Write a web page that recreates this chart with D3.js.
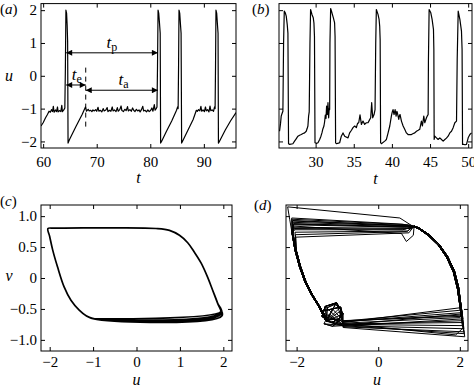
<!DOCTYPE html>
<html>
<head>
<meta charset="utf-8">
<script src="https://cdn.jsdelivr.net/npm/d3@7"></script>
<style>
  body { margin: 0; background: #fff; }
  svg { display: block; }
</style>
</head>
<body>
<div id="fig"></div>
<script>
// ---- data ----

// (a) u against t
const seriesA = [
  [59.6,-1.53],[60.0,-1.43],[60.45,-1.28],[60.8,-1.18],[61.1,-1.08],[61.35,-1.11],[61.55,-1.03],[61.75,-1.09],
  [61.9,-0.93],[62.05,-1.11],[62.3,-1.04],[62.5,-1.09],[62.68,-0.95],[62.8,-1.1],[63.05,-1.06],[63.3,-1.09],
  [63.48,-0.9],[63.6,-1.09],[63.85,-1.04],[64.05,-0.98],
  [64.15,0.2],[64.25,2.0],[64.38,1.9],[64.48,1.55],[64.57,1.05],[64.65,-2.05],
  [64.9,-1.95],[65.5,-1.75],[66.1,-1.55],[66.7,-1.36],[67.3,-1.17],[67.9,-0.95],
  [68.1,-1.08],[68.4,-1.02],[68.6,-1.07],[68.85,-1.05],[69.1,-1.09],[69.3,-1.04],[69.55,-1.07],[69.8,-1.03],
  [70.0,-1.08],[70.25,-0.96],[70.4,-1.08],[70.7,-1.05],[70.95,-1.1],[71.2,-1.0],[71.4,-1.07],[71.7,-1.04],
  [71.95,-0.97],[72.1,-1.09],[72.4,-1.05],[72.65,-1.08],[72.9,-0.95],[73.05,-1.07],[73.3,-1.04],[73.6,-1.09],
  [73.85,-0.97],[74.0,-1.08],[74.3,-1.03],[74.55,-0.92],[74.7,-1.06],[75.0,-1.09],[75.25,-1.02],[75.5,-1.06],
  [75.75,-0.94],[75.9,-1.07],[76.2,-1.03],[76.45,-1.08],[76.7,-0.98],[76.9,-1.05],[77.15,-1.09],[77.4,-1.02],
  [77.65,-1.07],[77.9,-1.04],[78.1,-1.1],[78.35,-1.03],[78.6,-0.93],[78.75,-1.07],[79.0,-1.05],[79.3,-1.1],
  [79.55,-1.04],[79.8,-1.09],[80.05,-1.06],[80.3,-0.98],[80.5,-1.08],[80.75,-0.88],[80.9,-1.05],[81.1,-1.0],
  [81.25,-0.95],
  [81.35,0.3],[81.45,2.0],[81.58,1.9],[81.72,1.6],[81.85,1.3],[81.93,-2.05],
  [82.1,-2.0],[83.0,-1.7],[84.0,-1.38],[84.9,-1.05],[85.1,-0.95],[85.2,-1.0],
  [85.28,0.3],[85.36,2.0],[85.5,1.9],[85.62,1.6],[85.75,1.3],[85.85,-2.05],
  [86.0,-2.0],[87.0,-1.67],[88.0,-1.33],[88.6,-1.05],[88.8,-1.08],[89.0,-1.03],[89.25,-1.07],[89.45,-0.93],
  [89.6,-1.08],[89.85,-1.04],[90.1,-1.09],[90.3,-0.95],[90.45,-1.07],[90.7,-1.03],[90.95,-1.1],[91.15,-0.92],
  [91.3,-1.06],[91.55,-1.04],[91.8,-1.08],[92.0,-0.95],[92.1,-1.0],
  [92.18,0.3],[92.26,2.0],[92.4,1.9],[92.52,1.6],[92.65,1.3],[92.72,-2.05],
  [92.9,-2.0],[94.0,-1.65],[95.0,-1.37],[96.0,-1.12]
];

// (b) u against t, noisier run
const seriesB = [
  [25.27,-1.69],[25.4,-1.45],[25.49,-1.23],[25.6,-1.15],[25.71,-1.08],[25.8,1.0],[25.89,1.97],[26.02,1.92],
  [26.15,1.82],[26.28,1.56],[26.37,1.3],[26.45,-2.07],[26.6,-2.09],[27.02,-2.07],[27.24,-1.99],[27.45,-1.92],
  [27.68,-1.84],[27.9,-1.81],[28.12,-1.79],[28.35,-1.76],[28.56,-1.74],[28.77,-1.69],[28.9,-1.6],[28.99,-1.53],
  [29.08,-1.23],[29.16,-1.1],[29.26,1.0],[29.34,2.02],[29.52,1.87],[29.69,1.77],[29.78,1.61],[29.85,1.2],
  [29.92,-2.04],[30.1,-2.06],[30.31,-2.04],[30.53,-1.94],[30.7,-1.84],[30.83,-1.74],[30.95,-1.62],[31.09,-1.53],
  [31.18,-1.4],[31.27,-1.2],[31.36,-1.3],[31.44,-0.92],[31.53,-1.18],[31.62,-0.82],[31.71,-1.28],[31.78,-1.0],
  [31.84,-1.03],[31.88,1.0],[31.97,2.05],[32.14,1.92],[32.32,1.77],[32.49,1.61],[32.55,1.2],[32.62,-2.04],
  [32.71,-2.07],[33.0,-2.05],[33.15,-2.04],[33.37,-1.84],[33.59,-1.74],[33.81,-1.84],[34.05,-1.87],[34.25,-1.89],
  [34.46,-1.74],[34.7,-1.66],[34.9,-1.58],[35.12,-1.53],[35.34,-1.58],[35.5,-1.45],[35.65,-1.43],[35.82,-1.19],
  [36.0,-1.48],[36.21,-1.38],[36.43,-1.48],[36.65,-1.43],[36.87,-1.43],[37.05,-1.35],[37.22,-1.28],[37.35,-0.82],
  [37.48,-1.28],[37.66,-1.18],[37.79,-1.03],[37.88,1.0],[37.96,2.02],[38.18,1.87],[38.32,1.72],[38.4,1.51],
  [38.46,1.1],[38.52,-2.04],[38.62,-2.07],[39.06,-1.99],[39.28,-1.94],[39.5,-1.74],[39.72,-1.53],[39.93,-1.23],
  [40.05,-1.1],[40.15,-1.03],[40.28,-1.18],[40.42,-1.03],[40.55,-1.23],[40.65,-1.08],[40.72,-1.13],[40.9,-1.33],
  [41.0,-1.2],[41.07,-1.18],[41.25,-1.38],[41.47,-1.53],[41.68,-1.63],[41.9,-1.74],[42.12,-1.79],[42.35,-1.79],
  [42.56,-1.79],[42.8,-1.76],[43.0,-1.74],[43.22,-1.69],[43.45,-1.66],[43.65,-1.63],[43.87,-1.38],[44.0,-1.53],
  [44.18,-1.23],[44.31,-1.43],[44.53,-1.28],[44.65,-1.22],[44.75,-1.18],[44.79,0.5],[44.88,2.02],[45.1,1.92],
  [45.27,1.72],[45.45,1.41],[45.5,0.8],[45.54,-1.94],[45.62,-1.84],[45.84,-1.89],[46.06,-1.94],[46.28,-1.89],
  [46.5,-1.94],[46.72,-1.99],[46.94,-1.94],[47.15,-1.9],[47.37,-1.84],[47.59,-1.74],[47.81,-1.69],[48.03,-1.58],
  [48.25,-1.43],[48.47,-1.38],[48.56,0.5],[48.69,1.97],[48.91,1.72],[49.12,1.36],[49.2,0.8],[49.26,-2.09],
  [49.39,-2.09],[49.6,-2.1],[49.78,-2.09],[50.0,-1.89],[50.22,-1.79],[50.44,-1.74]
];

// (c) phase portrait pieces (u, v)
const cBottomStart = [[-0.98,-0.66],[-0.95,-0.665],[-1.0,-0.655],[-0.92,-0.67],[-0.97,-0.66]];
const cBottomEnd   = [[1.95,-0.54],[1.96,-0.57],[1.94,-0.59],[1.97,-0.61],[1.95,-0.56]];
const cRightCurve  = [[1.87,-0.41],[1.75,-0.19],[1.64,0.01],[1.49,0.24],[1.33,0.42],[1.18,0.57],
                      [0.99,0.69],[0.76,0.77],[0.45,0.80]];
const cTopEdge     = [[-0.47,0.81],[-1.23,0.81],[-1.9,0.805]];
const cLeftCurve   = [[-2.04,0.80],[-2.0,0.67],[-1.93,0.45],[-1.82,0.18],[-1.67,-0.14],[-1.51,-0.36],
                      [-1.32,-0.52],[-1.16,-0.61]];

// (d) noisy phase portrait pieces (u, v)
const dTopLeft = [[-2.22,1.15],[-2.12,0.95],[-2.1,0.90],[-2.08,0.86],[-2.1,0.92],[-2.06,0.82],[-2.05,0.78],
  [-2.04,0.74],[-2.08,0.88],[-2.02,0.66],[-2.1,0.93],[-2.07,0.84],[-2.12,0.97],[-2.03,0.70],[-2.08,0.87],[-2.06,0.80]];
const dTopRight = [[0.53,0.97],[0.75,0.86],[0.8,0.84],[0.65,0.82],[0.7,0.85],[0.82,0.80],[0.6,0.78],
  [0.72,0.76],[0.85,0.82],[0.75,0.73],[0.78,0.84],[0.86,0.69],[0.6,0.87],[0.7,0.75],[0.8,0.83],[0.66,0.79]];
const dNotch = [[0.69,0.59],[0.57,0.72]];
const dBottomLeft = [[-0.86,-0.72],[-0.84,-0.76],[-0.88,-0.70],[-0.85,-0.78],[-0.87,-0.74],[-0.83,-0.77],
  [-0.9,-0.69],[-0.86,-0.8],[-0.85,-0.75],[-0.88,-0.71],[-0.84,-0.79],[-0.86,-0.73],[-0.89,-0.76],[-0.85,-0.7],
  [-0.87,-0.77],[-0.84,-0.74]];
const dBottomRight = [[2.02,-0.48],[2.06,-0.58],[2.03,-0.52],[2.08,-0.66],[2.07,-0.72],[2.1,-0.82],[2.04,-0.62],
  [2.12,-0.95],[2.09,-0.77],[2.04,-0.56],[2.1,-0.87],[2.0,-0.64],[2.07,-0.69],[2.03,-0.6],[2.11,-0.9],[1.9,-0.92]];
const dRightA = [[2.06,-0.75],[2.02,-0.55],[2.0,-0.44],[1.94,-0.17],[1.84,0.10],[1.67,0.34],[1.47,0.53],
  [1.22,0.69],[0.98,0.80],[0.86,0.83]];
const dRightB = [[2.09,-0.8],[2.05,-0.55],[2.02,-0.4],[1.97,-0.15],[1.87,0.11],[1.70,0.35],[1.50,0.54],
  [1.25,0.70],[1.0,0.81],[0.88,0.84]];
const dLeftA = [[-2.2,1.14],[-2.15,0.95],[-2.09,0.72],[-2.01,0.45],[-1.9,0.18],[-1.77,-0.06],[-1.6,-0.28],
  [-1.45,-0.44],[-1.33,-0.58],[-1.25,-0.68]];
const dLeftB = [[-2.21,1.12],[-2.17,0.95],[-2.11,0.72],[-2.04,0.45],[-1.93,0.18],[-1.8,-0.06],[-1.63,-0.28],
  [-1.47,-0.45],[-1.35,-0.6],[-1.27,-0.7]];
const dKnot = [[-1.25,-0.48],[-1.05,-0.42],[-0.9,-0.52],[-0.95,-0.66],[-1.15,-0.72],[-1.38,-0.62],[-1.3,-0.46],
  [-1.02,-0.4],[-0.86,-0.58],[-1.05,-0.74],[-1.3,-0.68],[-1.4,-0.54],[-1.12,-0.5],[-0.92,-0.47],[-0.88,-0.66],
  [-1.12,-0.78],[-1.33,-0.74],[-1.2,-0.58]];

// tick values
const ticksAx = [60, 70, 80, 90];
const ticksBx = [30, 35, 40, 45, 50];
const ticksU  = [-2, -1, 0, 1, 2];
const ticksCx = [-2, -1, 0, 1, 2];
const ticksDx = [-2, 0, 2];
const ticksV  = [-1, -0.5, 0, 0.5, 1];

// ---- drawing ----
const W = 474, H = 387;
const FONT = '"Liberation Serif"';

const svg = d3.select("#fig").append("svg")
  .attr("width", W).attr("height", H);

function addText(parent, x, y, size, italic) {
  return parent.append("text")
    .attr("x", x).attr("y", y)
    .style("font-family", FONT)
    .style("font-size", size + "px")
    .style("font-style", italic ? "italic" : "normal")
    .attr("fill", "#000");
}

function drawPanel(p) {
  const x = d3.scaleLinear().domain(p.xDomain).range([p.left, p.right]);
  const y = d3.scaleLinear().domain(p.yDomain).range([p.bottom, p.top]);
  const g = svg.append("g");

  svg.append("clipPath").attr("id", "clip-" + p.name)
    .append("rect")
    .attr("x", p.left).attr("y", p.top)
    .attr("width", p.right - p.left).attr("height", p.bottom - p.top);

  const xfmt = p.xLabels ? (p.xFormat || d3.format("d")) : () => "";
  const yfmt = p.yLabels ? (p.yFormat || d3.format("d")) : () => "";

  const axes = [
    [d3.axisBottom(x).tickValues(p.xTicks).tickFormat(xfmt).tickPadding(p.xPad), `translate(0,${p.bottom})`],
    [d3.axisTop(x).tickValues(p.xTicks).tickFormat(() => ""), `translate(0,${p.top})`],
    [d3.axisLeft(y).tickValues(p.yTicks).tickFormat(yfmt).tickPadding(4), `translate(${p.left},0)`],
    [d3.axisRight(y).tickValues(p.yTicks).tickFormat(() => ""), `translate(${p.right},0)`]
  ];
  axes.forEach(([ax, tr]) => {
    const a = g.append("g").attr("transform", tr).call(ax.tickSize(-4));
    a.select(".domain").remove();
    a.selectAll(".tick line").attr("stroke", "#000");
    a.selectAll(".tick text")
      .style("font-family", FONT).style("font-size", "15px")
      .attr("fill", "#000");
  });

  g.append("rect")
    .attr("x", p.left).attr("y", p.top)
    .attr("width", p.right - p.left).attr("height", p.bottom - p.top)
    .attr("fill", "none").attr("stroke", "#000").attr("stroke-width", 1);

  // panel tag like (a)
  const tag = addText(svg, p.tagX, p.tagY, 15, false);
  tag.append("tspan").text("(");
  tag.append("tspan").style("font-style", "italic").text(p.name);
  tag.append("tspan").text(")");

  // axis names
  addText(svg, (p.left + p.right) / 2, p.xNameY, 16, true)
    .attr("text-anchor", "middle").text(p.xName);
  if (p.yName) {
    addText(svg, 9, p.yNameY, 16, true).attr("text-anchor", "middle").text(p.yName);
  }

  return { x, y, g, clip: "url(#clip-" + p.name + ")" };
}

const vFormat = d => d === 0 ? "0" : d3.format(".1f")(d);

// panel (a)
const pa = drawPanel({
  name: "a", left: 41, right: 236, top: 3.6, bottom: 148,
  xDomain: [59.6, 96], yDomain: [-2.2, 2.2], xTicks: ticksAx, yTicks: ticksU,
  xLabels: true, yLabels: true, xPad: 8, tagX: 0, tagY: 14,
  xName: "t", xNameY: 183, yName: "u", yNameY: 81
});
// panel (b)
const pb = drawPanel({
  name: "b", left: 279, right: 472, top: 3.6, bottom: 148,
  xDomain: [25.2, 50.5], yDomain: [-2.2, 2.2], xTicks: ticksBx, yTicks: ticksU,
  xLabels: true, yLabels: false, xPad: 8, tagX: 252, tagY: 14,
  xName: "t", xNameY: 184
});
// panel (c)
const pc = drawPanel({
  name: "c", left: 41, right: 232, top: 205, bottom: 351,
  xDomain: [-2.2, 2.2], yDomain: [-1.18, 1.18], xTicks: ticksCx, yTicks: ticksV,
  xLabels: true, yLabels: true, yFormat: vFormat, xPad: 5, tagX: 0, tagY: 206,
  xName: "u", xNameY: 384.5, yName: "v", yNameY: 281
});
// panel (d)
const pd = drawPanel({
  name: "d", left: 286, right: 468, top: 205, bottom: 351,
  xDomain: [-2.26, 2.2], yDomain: [-1.18, 1.18], xTicks: ticksDx, yTicks: ticksV,
  xLabels: true, yLabels: false, xPad: 5, tagX: 254, tagY: 210,
  xName: "u", xNameY: 384.5
});

function plotLine(panel, pts, width, curve) {
  const line = d3.line()
    .x(d => panel.x(d[0])).y(d => panel.y(d[1]))
    .curve(curve || d3.curveLinear);
  panel.g.append("path")
    .datum(pts)
    .attr("clip-path", panel.clip)
    .attr("d", line)
    .attr("fill", "none").attr("stroke", "#000")
    .attr("stroke-width", width).attr("stroke-linejoin", "round");
}

plotLine(pa, seriesA, 1.2);
plotLine(pb, seriesB, 1.2);

// (c): a few near-identical cycles
const cPath = [];
cBottomStart.forEach((s, i) => {
  cPath.push(s, cBottomEnd[i], ...cRightCurve, ...cTopEdge, ...cLeftCurve);
});
cPath.push(cBottomStart[0]);
plotLine(pc, cPath, 1.7, d3.curveCatmullRom.alpha(0.5));

// (d): many noisy cycles
const dPath = [];
dTopLeft.forEach((tl, i) => {
  const br = dBottomRight[i];
  const right = i % 2 ? dRightB : dRightA;
  const left = i % 2 ? dLeftA : dLeftB;
  dPath.push(dBottomLeft[i], br);
  right.filter(p => p[1] > br[1] + 0.03).forEach(p => dPath.push(p));
  dPath.push(dTopRight[i]);
  if (i === 11) dNotch.forEach(p => dPath.push(p));
  dPath.push(tl);
  left.filter(p => p[1] < tl[1] - 0.03).forEach(p => dPath.push(p));
  const k = (i * 3) % 14;
  dKnot.slice(k, k + 5).forEach(p => dPath.push(p));
});
plotLine(pd, dPath, 1);

// ---- annotations in (a) ----
const defs = svg.append("defs");
defs.append("marker").attr("id", "head")
  .attr("viewBox", "0 0 10 10").attr("refX", 10).attr("refY", 5)
  .attr("markerUnits", "userSpaceOnUse")
  .attr("markerWidth", 7).attr("markerHeight", 6)
  .attr("orient", "auto-start-reverse")
  .append("path").attr("d", "M0,0 L10,5 L0,10 Z").attr("fill", "#000");

const spike1 = 64.3, spike2 = 81.42, tEnd = 67.95;
const arrows = [
  { t0: spike1, t1: spike2, u: 0.7 },
  { t0: spike1, t1: tEnd, u: -0.28 },
  { t0: tEnd, t1: spike2, u: -0.44 }
];
arrows.forEach(a => {
  pa.g.append("line")
    .attr("x1", pa.x(a.t0)).attr("x2", pa.x(a.t1))
    .attr("y1", pa.y(a.u)).attr("y2", pa.y(a.u))
    .attr("stroke", "#000").attr("stroke-width", 1)
    .attr("marker-start", "url(#head)").attr("marker-end", "url(#head)");
});

pa.g.append("line")
  .attr("x1", pa.x(tEnd)).attr("x2", pa.x(tEnd))
  .attr("y1", pa.y(0.25)).attr("y2", pa.y(-1.65))
  .attr("stroke", "#000").attr("stroke-width", 1)
  .attr("stroke-dasharray", "5,4");

const subLabels = [
  { sub: "p", t: 72.85, u: 0.86 },
  { sub: "e", t: 66.3, u: -0.12 },
  { sub: "a", t: 75.0, u: -0.28 }
];
subLabels.forEach(l => {
  const txt = addText(pa.g, pa.x(l.t), pa.y(l.u), 17, false).attr("text-anchor", "middle");
  txt.append("tspan").style("font-style", "italic").text("t");
  txt.append("tspan").style("font-size", "12px").attr("dy", 3).text(l.sub);
});
</script>
</body>
</html>
